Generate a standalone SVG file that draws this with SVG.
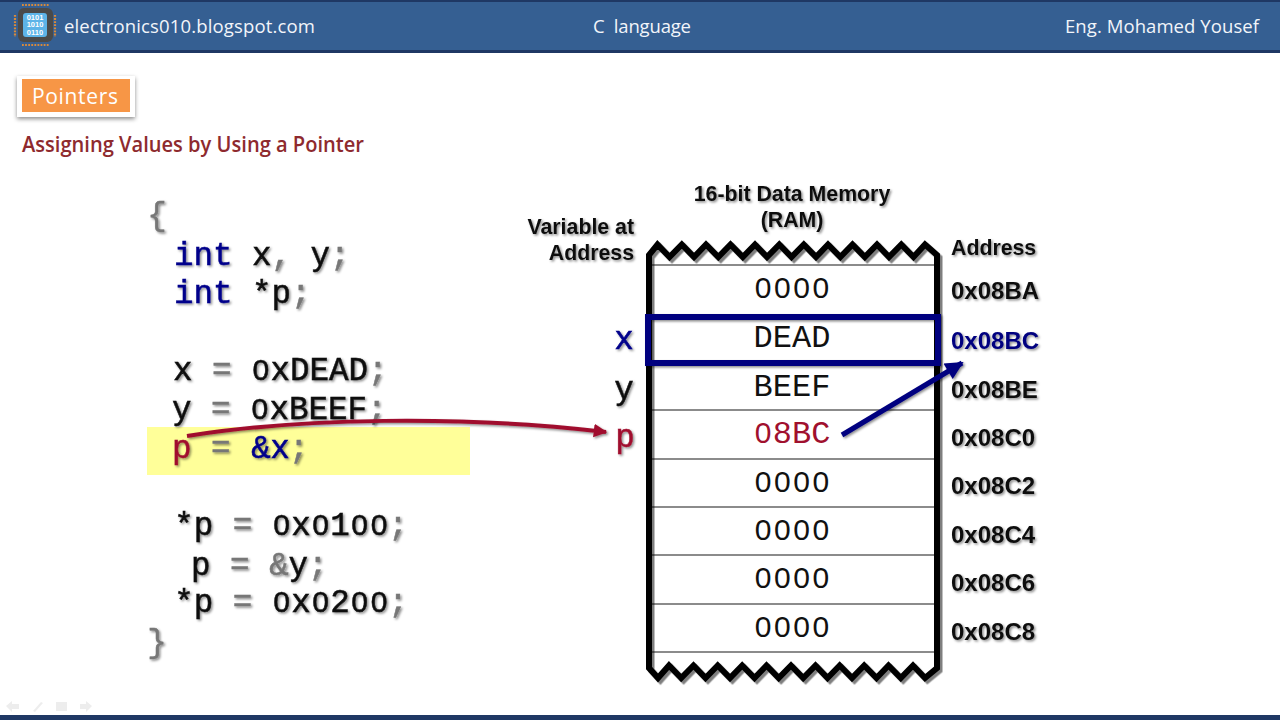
<svg xmlns="http://www.w3.org/2000/svg" width="1280" height="720" viewBox="0 0 1280 720">
<defs>
<filter id="sh" x="-10%" y="-20%" width="120%" height="140%"><feDropShadow dx="1.5" dy="1.5" stdDeviation="1" flood-color="#000" flood-opacity=".45"/></filter>
<filter id="wsh" x="-5%" y="-5%" width="110%" height="110%"><feDropShadow dx="2.5" dy="2.5" stdDeviation=".7" flood-color="#000" flood-opacity=".5"/></filter>
<filter id="cardsh" x="-10%" y="-20%" width="120%" height="140%"><feDropShadow dx="0" dy="2" stdDeviation="2" flood-color="#000" flood-opacity=".45"/></filter>
<marker id="ar" viewBox="0 0 10 10" refX="9" refY="5" markerWidth="3.4" markerHeight="4" orient="auto"><path d="M0 0L10 5L0 10Z" fill="#A0102E"/></marker>
<marker id="ab" viewBox="0 0 10 10" refX="9" refY="5" markerWidth="4" markerHeight="3.6" orient="auto"><path d="M0 0L10 5L0 10Z" fill="#00007F"/></marker>
</defs>
<style>
.hd{font-family:"Open Sans","Noto Sans",sans-serif;font-size:18.5px;fill:#F2F5FA}
.code{font-family:"Liberation Mono",monospace;font-size:32.5px;text-anchor:middle;fill:#111;stroke:#111;stroke-width:.5px;filter:url(#sh)}
.k{fill:#00008B;stroke:#00008B}
.g{fill:#777;stroke:#777}
.r{fill:#A0102E;stroke:#A0102E}
.v{font-family:"Liberation Mono",monospace;font-size:32px;fill:#111;text-anchor:middle}
.z{font-family:"Liberation Sans",Arial,sans-serif;font-size:30px}
.b{font-family:"Liberation Sans",Arial,sans-serif;font-weight:700;font-size:21.300px;fill:#111;filter:url(#sh)}
.ad{font-family:"Liberation Sans",Arial,sans-serif;font-weight:700;font-size:24px;fill:#111;filter:url(#sh)}
.cell{stroke:#666;stroke-width:1.3}
.nav{fill:#EDEDED}
</style>
<rect width="1280" height="720" fill="#fff"/>
<g id="header">
<rect x="0" y="0" width="1280" height="52" fill="#355F92"/>
<rect x="0" y="0" width="1280" height="2" fill="#1F3864"/>
<rect x="0" y="50" width="1280" height="3" fill="#1F3864"/>
<g id="chip">
<path stroke="#D98A3A" stroke-width="2.200" stroke-dasharray="1.800 1.300" fill="none" d="M22 5H49M22 45H49M15 15V37M55 15V37"/>
<rect x="18" y="8" width="35" height="34" rx="6" fill="#4A4A4A"/>
<rect x="23" y="13" width="24" height="24" rx="3" fill="#5DB4E8"/>
<text font-family="Liberation Sans,sans-serif" font-size="7.500" font-weight="700" fill="#fff" text-anchor="middle"><tspan x="35" y="20">0101</tspan><tspan x="35" y="27">1010</tspan><tspan x="35" y="34.500">0110</tspan></text>
</g>
<text class="hd" x="64" y="33" textLength="251">electronics010.blogspot.com</text>
<text class="hd" x="593" y="33" textLength="98" xml:space="preserve">C  language</text>
<text class="hd" x="1065" y="33" textLength="194">Eng. Mohamed Yousef</text>
</g>
<g id="pointers-tag">
<rect x="17" y="76" width="118" height="41" fill="#fff" filter="url(#cardsh)"/>
<rect x="22" y="79" width="108" height="33" fill="#F79646"/>
<text x="32" y="104" font-family="Open Sans,sans-serif" font-size="21px" fill="#fff" textLength="86">Pointers</text>
</g>
<text id="title" x="22" y="152" font-family="Open Sans,sans-serif" font-weight="600" font-size="22px" fill="#8E2A2E" textLength="342" lengthAdjust="spacingAndGlyphs">Assigning Values by Using a Pointer</text>
<rect id="highlight" x="147" y="427" width="323" height="48" fill="#FFFF99"/>
<g id="code">
<text class="code g" x="157" y="225">{</text>
<text class="code" y="265" xml:space="preserve"><tspan class="k" x="183.750 203.250 222.750 242.250">int </tspan><tspan x="261.750">x</tspan><tspan class="g" x="281.250 300.750">, </tspan><tspan x="320.250">y</tspan><tspan class="g" x="339.750">;</tspan></text>
<text class="code" y="303" xml:space="preserve"><tspan class="k" x="183.750 203.250 222.750 242.250">int </tspan><tspan x="261.750 281.250">*p</tspan><tspan class="g" x="300.750">;</tspan></text>
<text class="code" y="380" xml:space="preserve"><tspan x="182.750 202.250">x </tspan><tspan class="g" x="221.750 241.250">= </tspan><tspan class="z" x="260.750">0</tspan><tspan x="280.250 299.750 319.250 338.750 358.250">xDEAD</tspan><tspan class="g" x="377.750">;</tspan></text>
<text class="code" y="419" xml:space="preserve"><tspan x="181.750 201.250">y </tspan><tspan class="g" x="220.750 240.250">= </tspan><tspan class="z" x="259.750">0</tspan><tspan x="279.250 298.750 318.250 337.750 357.250">xBEEF</tspan><tspan class="g" x="376.750">;</tspan></text>
<text class="code" y="458" xml:space="preserve"><tspan class="r" x="181.750 201.250">p </tspan><tspan class="g" x="220.750 240.250">= </tspan><tspan class="k" x="261 280">&amp;x</tspan><tspan class="g" x="298.750">;</tspan></text>
<text class="code" y="535" xml:space="preserve"><tspan x="184 203.500 223">*p </tspan><tspan class="g" x="242.500 262">= </tspan><tspan class="z" x="281.500">0</tspan><tspan x="301">x</tspan><tspan class="z" x="320.500">0</tspan><tspan x="340">1</tspan><tspan class="z" x="359.500 379">00</tspan><tspan class="g" x="398">;</tspan></text>
<text class="code" y="575" xml:space="preserve"><tspan x="200.750 220.250">p </tspan><tspan class="g" x="239.750 259.250">= </tspan><tspan class="g" x="279">&amp;</tspan><tspan x="298.250">y</tspan><tspan class="g" x="317.750">;</tspan></text>
<text class="code" y="612" xml:space="preserve"><tspan x="184 203.500 223">*p </tspan><tspan class="g" x="242.500 262">= </tspan><tspan class="z" x="281.500">0</tspan><tspan x="301">x</tspan><tspan class="z" x="320.500">0</tspan><tspan x="340">2</tspan><tspan class="z" x="359.500 379">00</tspan><tspan class="g" x="398">;</tspan></text>
<text class="code g" x="157" y="652">}</text>
</g>
<g id="memory">
<g id="cells">
<path class="cell" d="M652 265H935M652 410H935M652 459H935M652 507H935M652 555H935M652 604H935M652 652H935"/>
</g>
<path id="mem-wall" filter="url(#wsh)" fill="none" stroke="#000" stroke-width="6" stroke-linejoin="miter" d="M649 668V255L657.500 244.500L669.500 257L681.800 244.500L694 257L706 244.500L718.300 257L730.500 244.500L742.800 257L755 244.500L767 257L779.300 244.500L791.500 257L803.800 244.500L816 257L828 244.500L840.300 257L852.500 244.500L864.800 257L877 244.500L889 257L901.300 244.500L913.500 257L925 244.500L937 255V668L925 678L913 665.500L900.800 678L888.500 665.500L876.500 678L864.200 665.500L852 678L839.700 665.500L827.500 678L815.500 665.500L803.200 678L791 665.500L778.700 678L766.500 665.500L754.500 678L742.200 665.500L730 678L717.700 665.500L705.500 678L693.500 665.500L681.200 678L669 665.500L658 678Z"/>
<rect id="x-cell" x="648" y="317" width="290" height="46" fill="none" stroke="#00007F" stroke-width="6" filter="url(#sh)"/>
<text class="v z" x="763.200 782.400 801.600 820.800" y="298">0000</text>
<text class="v" x="763.200 782.400 801.600 820.800" y="347">DEAD</text>
<text class="v" x="763.200 782.400 801.600 820.800" y="396">BEEF</text>
<text class="v" y="443" style="fill:#A0102E"><tspan class="z" x="763.200">0</tspan><tspan x="782.400 801.600 820.800">8BC</tspan></text>
<text class="v z" x="763.200 782.400 801.600 820.800" y="492">0000</text>
<text class="v z" x="763.200 782.400 801.600 820.800" y="540">0000</text>
<text class="v z" x="763.200 782.400 801.600 820.800" y="588">0000</text>
<text class="v z" x="763.200 782.400 801.600 820.800" y="637">0000</text>
</g>
<g id="labels">
<text class="b" x="792" y="201" text-anchor="middle">16-bit Data Memory</text>
<text class="b" x="792" y="227" text-anchor="middle">(RAM)</text>
<text class="b" x="634" y="234" text-anchor="end">Variable at</text>
<text class="b" x="634" y="260" text-anchor="end">Address</text>
<text class="b" x="951" y="255">Address</text>
<text class="ad" x="951" y="299">0x08BA</text>
<text class="ad" x="951" y="349" style="fill:#00007F">0x08BC</text>
<text class="ad" x="951" y="398">0x08BE</text>
<text class="ad" x="951" y="446">0x08C0</text>
<text class="ad" x="951" y="494">0x08C2</text>
<text class="ad" x="951" y="543">0x08C4</text>
<text class="ad" x="951" y="591">0x08C6</text>
<text class="ad" x="951" y="640">0x08C8</text>
<text class="code k" x="624" y="349">x</text>
<text class="code" x="624" y="399">y</text>
<text class="code r" x="625" y="447">p</text>
</g>
<g id="connectors" filter="url(#sh)" fill="none">
<path d="M187 436C300 418 460 415 606 432" stroke="#A0102E" stroke-width="4" marker-end="url(#ar)"/>
<path d="M842 435L962 363" stroke="#00007F" stroke-width="5" marker-end="url(#ab)"/>
</g>
<g id="nav" class="nav">
<path d="M6 706L12 701V704H19V709H12V712Z"/>
<path d="M33 711L41 702L43 703L35 712Z"/>
<rect x="56" y="702" width="11" height="9"/>
<path d="M92 706L86 701V704H80V709H86V712Z"/>
</g>
<rect id="footer" x="0" y="715" width="1280" height="5" fill="#1F3864"/>
</svg>
